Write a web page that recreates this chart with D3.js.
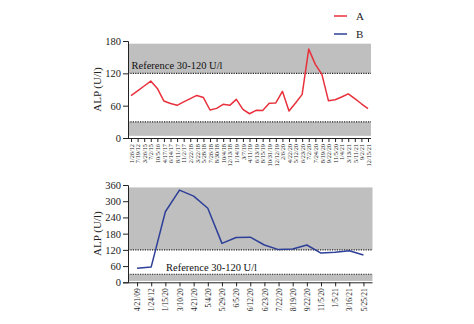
<!DOCTYPE html>
<html>
<head>
<meta charset="utf-8">
<script src="https://cdn.jsdelivr.net/npm/d3@7"></script>
<style>
  html, body { margin: 0; padding: 0; background: #fff; }
  svg { display: block; font-family: "Liberation Serif", "Times New Roman", serif; }
</style>
</head>
<body>
<svg id="chart" width="474" height="324"></svg>
<script>
// Visit dates and ALP values (U/l) for patient A
const topDates = ["1/26/12","7/19/12","3/26/15","7/2/15","10/5/16","4/17/17","6/14/17","8/11/17","11/2/17",
  "2/22/18","3/22/18","5/28/18","7/26/18","8/30/18","10/4/18","12/13/18","1/14/19","3/7/19","4/11/19",
  "6/13/19","8/15/19","10/31/19","12/12/19","2/6/20","4/22/20","5/12/20","6/23/20","7/2/20","7/24/20",
  "8/19/20","9/22/20","11/5/20","1/4/21","3/13/21","5/11/21","9/2/21","12/15/21"];
const topValues = [78.5, 87.5, 96.5, 105.7, 92, 68.6, 64, 60.6, 67, 73, 79, 75, 52, 55, 62.5, 60.6, 71.7,
  53, 45, 51.3, 51, 64.3, 65, 86.6, 50, 65, 81, 165, 136.7, 118, 69, 71, 76, 82, 73, 63.5, 54.5];

// Visit dates and ALP values (U/l) for patient B
const bottomDates = ["4/21/09","1/24/12","1/15/20","3/10/20","4/21/20","5/4/20","5/29/20","6/5/20","6/12/20",
  "6/23/20","7/22/20","8/19/20","9/22/20","11/5/20","1/5/21","3/16/21","5/25/21"];
const bottomValues = [52, 57, 261, 341, 319, 274, 144, 166, 167, 138, 121, 123, 138, 108, 111, 117, 101];

const topYTicks = [0, 60, 120, 180];
const bottomYTicks = [0, 60, 120, 180, 240, 300, 360];
const refRange = [30, 120];           // normal ALP range
const refLabel = "Reference 30-120 U/l";
const seriesNames = ["A", "B"];
const seriesColors = ["#e8313c", "#2e3f98"];

const svg = d3.select("#chart");
const grey = "#bfbfbf";

function panel(opts) {
  const { dates, values, yMax, bandTop, bandBottom, ticks, yRange, xRange, pad,
          color, labelSize, refPos } = opts;
  const x = d3.scalePoint().domain(dates).range(xRange).padding(pad);
  const y = d3.scaleLinear().domain([0, yMax]).range(yRange);
  const g = svg.append("g");
  const x0 = xRange[0], x1 = xRange[1];

  // shaded regions outside the reference range
  g.append("rect").attr("x", x0 + 1).attr("width", x1 - x0 - 1)
    .attr("y", y(bandTop)).attr("height", y(refRange[1]) - y(bandTop)).attr("fill", grey);
  g.append("rect").attr("x", x0 + 1).attr("width", x1 - x0 - 1)
    .attr("y", y(refRange[0])).attr("height", y(bandBottom) - y(refRange[0])).attr("fill", grey);

  // dotted limits
  refRange.forEach(v => {
    g.append("line").attr("x1", x0).attr("x2", x1).attr("y1", y(v)).attr("y2", y(v))
      .attr("stroke", "#222").attr("stroke-width", 1.1).attr("stroke-dasharray", "1.2,1.2");
  });

  g.append("text").attr("x", refPos[0]).attr("y", y(refPos[1]))
    .attr("font-size", 10.5).attr("fill", "#111").text(refLabel);

  // series line
  g.append("path")
    .datum(values)
    .attr("fill", "none").attr("stroke", color).attr("stroke-width", 1.5)
    .attr("stroke-linejoin", "round")
    .attr("d", d3.line().x((d, i) => x(dates[i])).y(d => y(d)));

  // y axis
  const ya = g.append("g").attr("transform", `translate(${x0},0)`)
    .call(d3.axisLeft(y).tickValues(ticks).tickSize(5).tickPadding(2));
  ya.select(".domain").attr("stroke", "#222");
  ya.selectAll(".tick line").attr("stroke", "#222");
  ya.selectAll("text").attr("font-family", "Liberation Serif").attr("font-size", 10.5).attr("fill", "#222");

  // x axis
  const xa = g.append("g").attr("transform", `translate(0,${yRange[0]})`)
    .call(d3.axisBottom(x).tickSize(4).tickSizeOuter(0).tickPadding(2));
  xa.select(".domain").attr("stroke", "#222").attr("d", `M${x0},0.5H${x1}`);
  xa.selectAll(".tick line").attr("stroke", "#222");
  xa.selectAll("text")
    .attr("font-family", "Liberation Serif").attr("font-size", labelSize).attr("fill", "#222")
    .attr("transform", "rotate(-90)")
    .attr("text-anchor", "end").attr("dy", "0.35em").attr("x", -6).attr("y", 0);

  // axis title
  g.append("text")
    .attr("transform", `translate(101,${(yRange[0] + yRange[1]) / 2}) rotate(-90)`)
    .attr("text-anchor", "middle").attr("font-size", 11).attr("fill", "#222")
    .text("ALP (U/l)");
}

panel({
  dates: topDates, values: topValues, yMax: 180, bandTop: 175, bandBottom: 4,
  ticks: topYTicks, yRange: [138, 41], xRange: [128, 371], pad: 0.46,
  color: seriesColors[0], labelSize: 6.3, refPos: [131.5, 128]
});

panel({
  dates: bottomDates, values: bottomValues, yMax: 360, bandTop: 351, bandBottom: 5,
  ticks: bottomYTicks, yRange: [282.3, 185], xRange: [128, 372.5], pad: 0.64,
  color: seriesColors[1], labelSize: 7.5, refPos: [166, 41]
});

// legend
const leg = svg.append("g");
seriesNames.forEach((name, i) => {
  const ly = 16 + i * 18;
  leg.append("line").attr("x1", 334).attr("x2", 347).attr("y1", ly).attr("y2", ly)
    .attr("stroke", seriesColors[i]).attr("stroke-width", 1.5);
  leg.append("text").attr("x", 356).attr("y", ly).attr("dy", "0.35em")
    .attr("font-size", 11).attr("fill", "#222").text(name);
});
</script>
</body>
</html>
